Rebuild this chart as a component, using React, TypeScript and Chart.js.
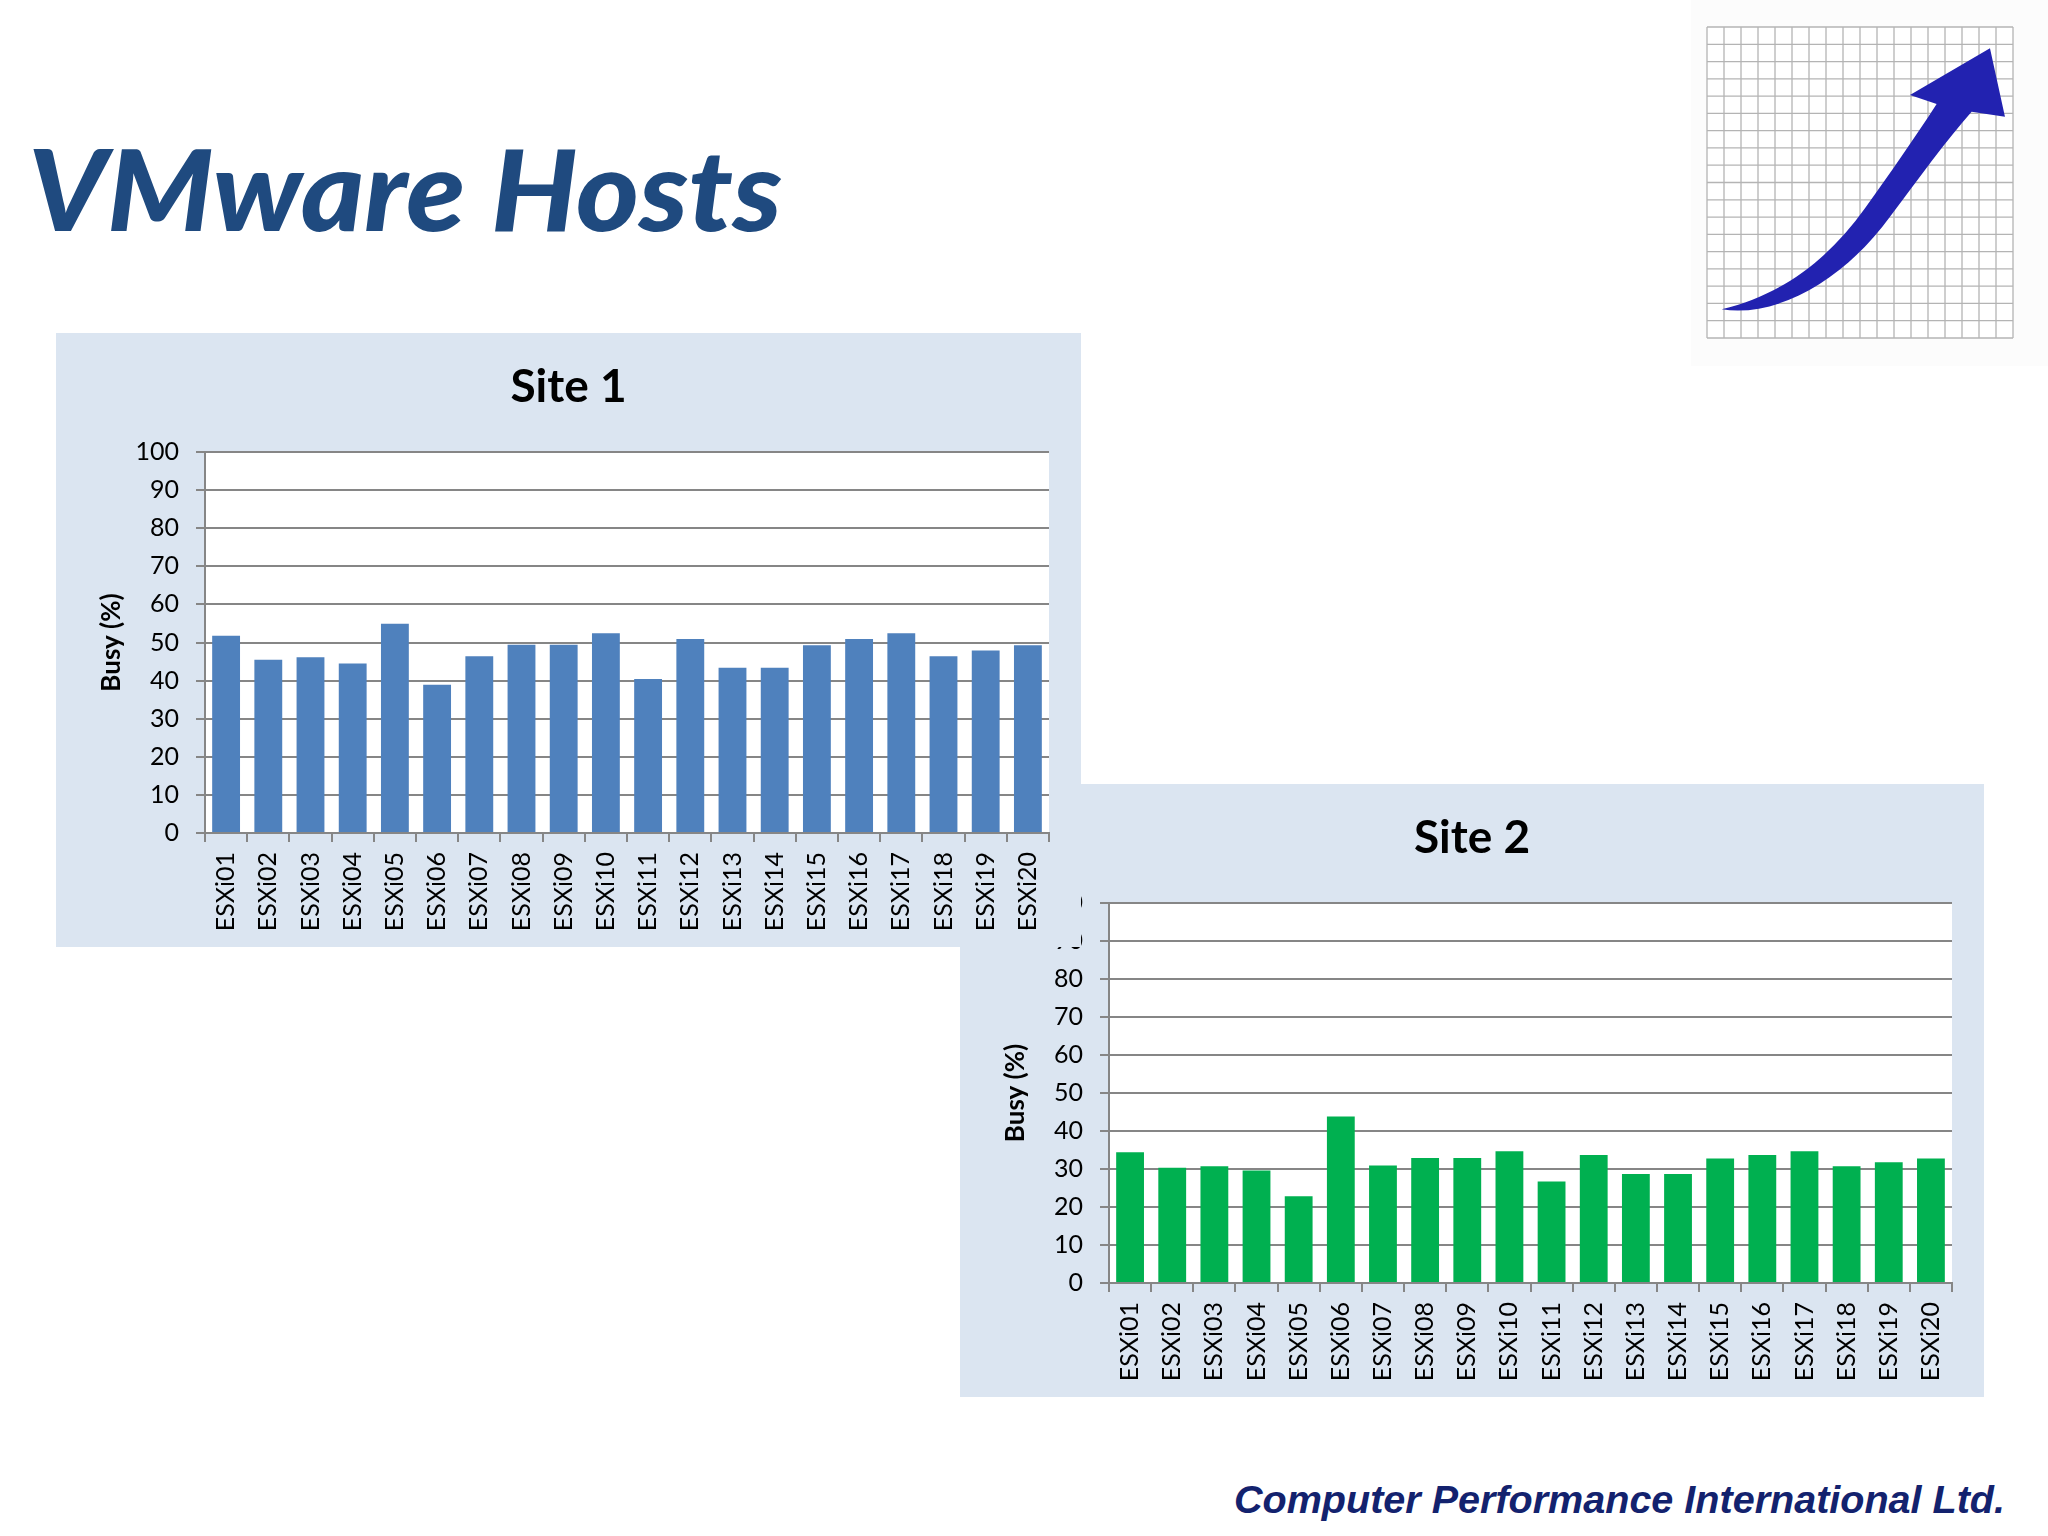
import React, { useEffect, useRef } from "react";
import { Chart, registerables } from "chart.js";

Chart.register(...registerables);

// ---------- data ----------
const hosts = [
  "ESXi01", "ESXi02", "ESXi03", "ESXi04", "ESXi05", "ESXi06", "ESXi07", "ESXi08", "ESXi09", "ESXi10",
  "ESXi11", "ESXi12", "ESXi13", "ESXi14", "ESXi15", "ESXi16", "ESXi17", "ESXi18", "ESXi19", "ESXi20",
];
const site1Busy = [51.8, 45.5, 46.1, 44.5, 54.9, 38.9, 46.4, 49.4, 49.4, 52.4, 40.4, 50.9, 43.4, 43.4, 49.3, 50.9, 52.4, 46.4, 47.9, 49.3];
const site2Busy = [34.4, 30.3, 30.7, 29.6, 22.8, 43.8, 30.9, 32.9, 32.9, 34.7, 26.7, 33.7, 28.7, 28.7, 32.75, 33.7, 34.7, 30.7, 31.8, 32.75];
const yMin = 0;
const yMax = 100;
const yStep = 10;
const yAxisTitle = "Busy (%)";

// ---------- styles ----------
const GRID = "#868686";
const PANEL_BG = "#dbe5f1";
const FONT = "Lato";

const plotBackground = {
  id: "plotBackground",
  beforeDraw(chart: any) {
    const { ctx, chartArea } = chart;
    if (!chartArea) return;
    ctx.save();
    ctx.fillStyle = "#ffffff";
    ctx.fillRect(chartArea.left, chartArea.top, chartArea.right - chartArea.left, chartArea.bottom - chartArea.top);
    ctx.restore();
  },
};

function makeConfig(title: string, values: number[], color: string): any {
  return {
    type: "bar",
    data: {
      labels: hosts,
      datasets: [
        {
          data: values,
          backgroundColor: color,
          borderWidth: 0,
          barPercentage: 0.66,
          categoryPercentage: 1,
        },
      ],
    },
    options: {
      responsive: false,
      animation: false,
      devicePixelRatio: 1,
      layout: { padding: { left: 32, right: 32, top: 0, bottom: 0 } },
      plugins: {
        legend: { display: false },
        tooltip: { enabled: false },
        title: {
          display: true,
          text: title,
          color: "#000000",
          font: { family: FONT, size: 46, weight: "bold", lineHeight: 1.2 },
          padding: { top: 26.5, bottom: 37.3 },
        },
      },
      scales: {
        x: {
          grid: {
            display: true,
            drawOnChartArea: false,
            drawTicks: true,
            tickLength: 9,
            color: GRID,
            lineWidth: 2,
            offset: true,
          },
          border: { display: true, color: GRID, width: 2 },
          ticks: {
            minRotation: 90,
            maxRotation: 90,
            autoSkip: false,
            padding: 10,
            color: "#000000",
            font: { family: FONT, size: 25 },
          },
          afterFit: (s: any) => {
            s.height = 114;
          },
        },
        y: {
          min: yMin,
          max: yMax,
          ticks: {
            stepSize: yStep,
            padding: 17,
            color: "#000000",
            font: { family: FONT, size: 25 },
          },
          grid: { color: GRID, lineWidth: 2, tickLength: 9 },
          border: { display: true, color: GRID, width: 2 },
          title: {
            display: true,
            text: yAxisTitle,
            color: "#000000",
            font: { family: FONT, size: 26, weight: "bold", lineHeight: 1.2 },
            padding: { top: 8.4, bottom: 0 },
          },
          afterFit: (s: any) => {
            s.width = 117;
          },
        },
      },
    },
    plugins: [plotBackground],
  };
}

function SiteChart(props: {
  title: string;
  values: number[];
  color: string;
  left: number;
  top: number;
  width: number;
  height: number;
  z: number;
}) {
  const ref = useRef<HTMLCanvasElement | null>(null);
  useEffect(() => {
    if (!ref.current) return;
    const chart = new Chart(ref.current, makeConfig(props.title, props.values, props.color));
    return () => chart.destroy();
  }, []);
  return (
    <div
      style={{
        position: "absolute",
        left: props.left,
        top: props.top,
        width: props.width,
        height: props.height,
        background: PANEL_BG,
        zIndex: props.z,
      }}
    >
      <canvas
        ref={ref}
        width={props.width}
        height={props.height}
        style={{ display: "block", width: props.width, height: props.height }}
      />
    </div>
  );
}

function Decoration() {
  // sketched grid paper with a rising arrow (top-right picture)
  const x0 = 1707;
  const y0 = 27;
  const w = 306;
  const h = 311;
  const n = 18;
  const vlines = [];
  const hlines = [];
  for (let i = 0; i <= n; i++) {
    const x = x0 + (w * i) / n;
    const y = y0 + (h * i) / n;
    vlines.push(<line key={"v" + i} x1={x} y1={y0} x2={x} y2={y0 + h} stroke="#b4b4b4" strokeWidth={1.3} />);
    hlines.push(<line key={"h" + i} x1={x0} y1={y} x2={x0 + w} y2={y} stroke="#b4b4b4" strokeWidth={1.3} />);
  }
  return (
    <g>
      <rect x={1691} y={0} width={357} height={366} fill="#fcfcfc" />
      <rect x={x0} y={y0} width={w} height={h} fill="#ffffff" />
      {vlines}
      {hlines}
      <g transform="translate(1680,0) scale(0.3333)">
        <path
          d="M125,928 C300,955 500,830 630,650 C720,530 800,420 875,335 L975,350 L930,145 L690,285 L770,312 C700,420 630,520 555,625 C450,770 320,880 125,928 Z"
          fill="#2222b0"
        />
      </g>
    </g>
  );
}

export default function App() {
  return (
    <div
      style={{
        position: "absolute",
        left: 0,
        top: 0,
        width: 2048,
        height: 1536,
        background: "#ffffff",
        overflow: "hidden",
      }}
    >
      <svg width={2048} height={1536} style={{ position: "absolute", left: 0, top: 0, zIndex: 0 }}>
        <text
          x={28}
          y={231}
          fontFamily="Lato"
          fontWeight={900}
          fontStyle="italic"
          fontSize={112}
          fill="#1f4a7f"
          textLength={754}
          lengthAdjust="spacingAndGlyphs"
        >
          VMware Hosts
        </text>
        <text
          x={1234}
          y={1513}
          fontFamily="Liberation Sans"
          fontWeight={700}
          fontStyle="italic"
          fontSize={39.5}
          fill="#13226e"
          textLength={771}
          lengthAdjust="spacingAndGlyphs"
        >
          Computer Performance International Ltd.
        </text>
        <Decoration />
      </svg>
      <SiteChart title="Site 2" values={site2Busy} color="#00b050" left={960} top={784} width={1024} height={613} z={1} />
      <SiteChart title="Site 1" values={site1Busy} color="#4f81bd" left={56} top={333} width={1025} height={614} z={2} />
    </div>
  );
}
